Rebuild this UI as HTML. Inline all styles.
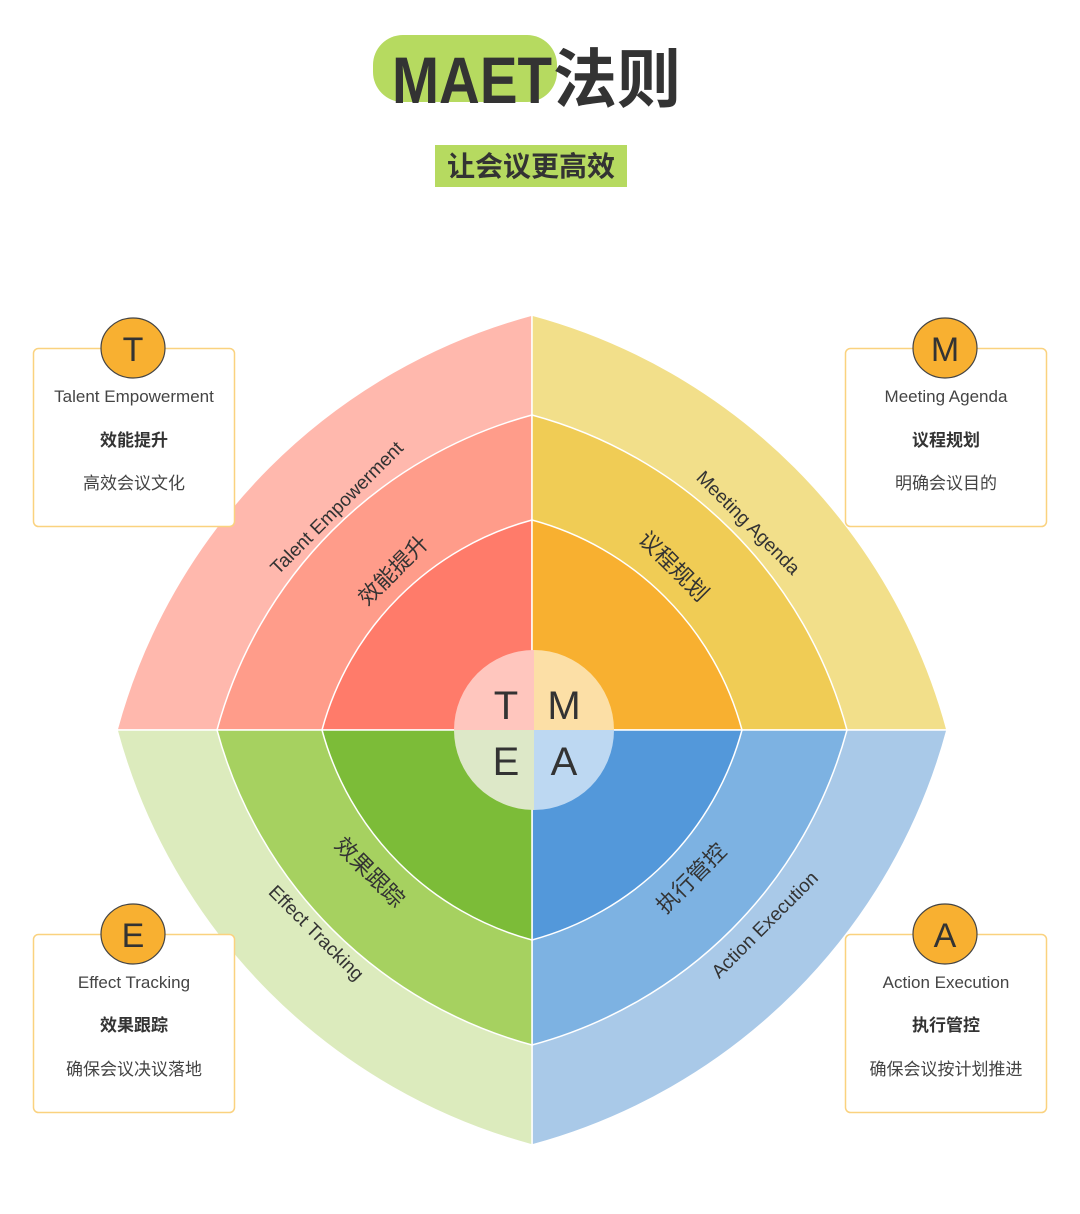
<!DOCTYPE html>
<html><head><meta charset="utf-8"><style>
body{margin:0;background:#fff;width:1080px;height:1209px;overflow:hidden;font-family:"Liberation Sans","Noto Sans CJK SC",sans-serif}
</style></head><body>
<svg width="1080" height="1209" viewBox="0 0 1080 1209" xmlns="http://www.w3.org/2000/svg" style="font-family:'Liberation Sans','Noto Sans CJK SC',sans-serif">
<rect x="373" y="35" width="184" height="67" rx="30" fill="#B6DA60"/>
<text x="392" y="103" font-size="66" font-weight="bold" fill="#333" textLength="160" lengthAdjust="spacingAndGlyphs">MAET</text>
<text x="553" y="102" font-size="64" fill="#333" font-family="'Noto Sans CJK SC',sans-serif" font-weight="bold">法则</text>
<rect x="435" y="145" width="192" height="42" fill="#B6DA60"/>
<text x="531" y="176" font-size="28" font-weight="bold" fill="#333" text-anchor="middle" font-family="'Noto Sans CJK SC',sans-serif">让会议更高效</text>

<g stroke="#fff" stroke-width="1.5">
<path d="M532 730 L532 315 A589 589 0 0 0 117 730 Z" fill="#FFB8AD"/>
<path d="M532 730 L947 730 A589 589 0 0 0 532 315 Z" fill="#F2DF8A"/>
<path d="M532 730 L532 1145 A589 589 0 0 0 947 730 Z" fill="#A9C9E8"/>
<path d="M532 730 L117 730 A589 589 0 0 0 532 1145 Z" fill="#DCEBBD"/>
<path d="M532 730 L532 415 A447 447 0 0 0 217 730 Z" fill="#FF9C8A"/>
<path d="M532 730 L847 730 A447 447 0 0 0 532 415 Z" fill="#F0CC55"/>
<path d="M532 730 L532 1045 A447 447 0 0 0 847 730 Z" fill="#7DB2E2"/>
<path d="M532 730 L217 730 A447 447 0 0 0 532 1045 Z" fill="#A6D160"/>
<path d="M532 730 L532 520 A298 298 0 0 0 322 730 Z" fill="#FF7B6A"/>
<path d="M532 730 L742 730 A298 298 0 0 0 532 520 Z" fill="#F8B030"/>
<path d="M532 730 L532 940 A298 298 0 0 0 742 730 Z" fill="#5398DA"/>
<path d="M532 730 L322 730 A298 298 0 0 0 532 940 Z" fill="#7CBC38"/>
</g>
<path d="M534 730 L534 650 A80 80 0 0 0 454 730 Z" fill="#FFC6BE"/>
<path d="M534 730 L614 730 A80 80 0 0 0 534 650 Z" fill="#FCDFA6"/>
<path d="M534 730 L534 810 A80 80 0 0 0 614 730 Z" fill="#BDD8F2"/>
<path d="M534 730 L454 730 A80 80 0 0 0 534 810 Z" fill="#DDE8C8"/>
<g font-size="40" fill="#333" text-anchor="middle">
<text x="506" y="719">T</text><text x="564" y="719">M</text>
<text x="506" y="775">E</text><text x="564" y="775">A</text>
</g>
<g font-size="19" fill="#333" text-anchor="middle">
<text transform="translate(337,508) rotate(-45)" dy="6">Talent Empowerment</text>
<text transform="translate(393,570) rotate(-45)" dy="8" font-size="22">效能提升</text>
<text transform="translate(748,523) rotate(45)" dy="6">Meeting Agenda</text>
<text transform="translate(674,566) rotate(45)" dy="8" font-size="22">议程规划</text>
<text transform="translate(370,872) rotate(45)" dy="8" font-size="22">效果跟踪</text>
<text transform="translate(316,933) rotate(45)" dy="6">Effect Tracking</text>
<text transform="translate(691,878) rotate(-45)" dy="8" font-size="22">执行管控</text>
<text transform="translate(765,925) rotate(-45)" dy="6">Action Execution</text>
</g>

<g font-size="17" fill="#444" text-anchor="middle">
<g>
<rect x="33.5" y="348.5" width="201" height="178" rx="5" fill="#fff" stroke="#FAD27F" stroke-width="1.5"/>
<ellipse cx="133" cy="348" rx="32" ry="30" fill="#F8B031" stroke="#444" stroke-width="1.2"/>
<text x="133" y="361" font-size="34" fill="#333">T</text>
<text x="134" y="402">Talent Empowerment</text>
<text x="134" y="446" font-weight="bold" fill="#333">效能提升</text>
<text x="134" y="489">高效会议文化</text>
</g>
<g>
<rect x="845.5" y="348.5" width="201" height="178" rx="5" fill="#fff" stroke="#FAD27F" stroke-width="1.5"/>
<ellipse cx="945" cy="348" rx="32" ry="30" fill="#F8B031" stroke="#444" stroke-width="1.2"/>
<text x="945" y="361" font-size="34" fill="#333">M</text>
<text x="946" y="402">Meeting Agenda</text>
<text x="946" y="446" font-weight="bold" fill="#333">议程规划</text>
<text x="946" y="489">明确会议目的</text>
</g>
<g>
<rect x="33.5" y="934.5" width="201" height="178" rx="5" fill="#fff" stroke="#FAD27F" stroke-width="1.5"/>
<ellipse cx="133" cy="934" rx="32" ry="30" fill="#F8B031" stroke="#444" stroke-width="1.2"/>
<text x="133" y="947" font-size="34" fill="#333">E</text>
<text x="134" y="988">Effect Tracking</text>
<text x="134" y="1031" font-weight="bold" fill="#333">效果跟踪</text>
<text x="134" y="1075">确保会议决议落地</text>
</g>
<g>
<rect x="845.5" y="934.5" width="201" height="178" rx="5" fill="#fff" stroke="#FAD27F" stroke-width="1.5"/>
<ellipse cx="945" cy="934" rx="32" ry="30" fill="#F8B031" stroke="#444" stroke-width="1.2"/>
<text x="945" y="947" font-size="34" fill="#333">A</text>
<text x="946" y="988">Action Execution</text>
<text x="946" y="1031" font-weight="bold" fill="#333">执行管控</text>
<text x="946" y="1075">确保会议按计划推进</text>
</g>
</g>
</svg>
</body></html>
